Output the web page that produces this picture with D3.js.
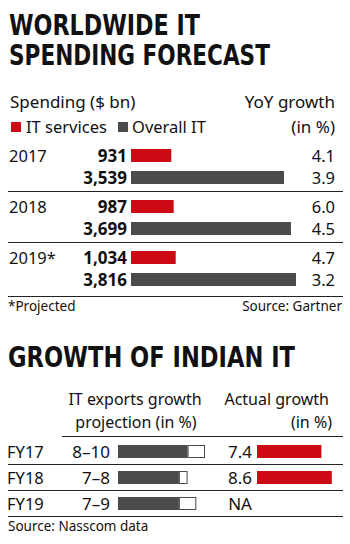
<!DOCTYPE html>
<html>
<head>
<meta charset="utf-8">
<script src="https://cdn.jsdelivr.net/npm/d3@7"></script>
<style>
  html, body { margin: 0; padding: 0; background: #fff; }
  svg { display: block; }
  text { fill: #111; }
</style>
</head>
<body>
<svg id="chart" width="350" height="544"></svg>
<script>
// ---- Data: worldwide IT spending ----
const years = ["2017", "2018", "2019*"];
const itServices = [931, 987, 1034];
const overallIT = [3539, 3699, 3816];
const yoyServices = ["4.1", "6.0", "4.7"];
const yoyOverall = ["3.9", "4.5", "3.2"];

// ---- Data: growth of Indian IT ----
const fiscalYears = ["FY17", "FY18", "FY19"];
const projLow = [8, 7, 7];
const projHigh = [10, 8, 9];
const projLabels = ["8–10", "7–8", "7–9"];
const actualGrowth = [7.4, 8.6, null];
const actualLabels = ["7.4", "8.6", "NA"];

const RED = "#cc0a14";
const GRAY = "#4b4b4b";
const TITLE_FONT = "'Liberation Sans Narrow', 'DejaVu Sans Condensed', 'Roboto Condensed', sans-serif";
const BODY_FONT = "'Noto Sans', 'Open Sans', sans-serif";

const svg = d3.select("#chart");
const fmt = d3.format(",");

// Title line: font size chosen so the natural width fits the reference width,
// then stretched vertically a little (condensed display face in the reference)
function title(txt, x, y, width, sy) {
  const t = svg.append("text")
    .attr("transform", `translate(${x},${y}) scale(1,${sy})`)
    .attr("font-family", TITLE_FONT).attr("font-weight", "bold")
    .attr("font-size", 32).text(txt);
  const w = t.node().getComputedTextLength();
  if (w > 0) t.attr("font-size", Math.min(34, 32 * width / w));
  return t;
}
function label(txt, x, y, opts = {}) {
  return svg.append("text").attr("x", x).attr("y", y)
    .attr("font-family", BODY_FONT)
    .attr("font-size", opts.size || 16)
    .attr("font-weight", opts.weight || "normal")
    .attr("text-anchor", opts.anchor || "start")
    .text(txt);
}
function hline(x1, x2, y) {
  svg.append("line").attr("x1", x1).attr("x2", x2).attr("y1", y).attr("y2", y)
    .attr("stroke", "#222").attr("stroke-width", 1);
}

// ===== Section 1 =====
title("WORLDWIDE IT", 9, 35, 191, 1.15);
title("SPENDING FORECAST", 9, 65, 261, 1.15);

label("Spending ($ bn)", 10, 108, {size: 17});
label("YoY growth", 335, 108, {anchor: "end", size: 17});
label("(in %)", 335, 133, {anchor: "end", size: 17});
svg.append("rect").attr("x", 11).attr("y", 122).attr("width", 10).attr("height", 10).attr("fill", RED);
label("IT services", 26, 133, {size: 16.5});
svg.append("rect").attr("x", 118).attr("y", 122).attr("width", 10).attr("height", 10).attr("fill", GRAY);
label("Overall IT", 132, 133, {size: 16.5});

const y1 = d3.scaleBand().domain(years).range([140, 293]);
const x1 = d3.scaleLinear().domain([0, d3.max(overallIT)]).range([131, 296]);
const barH = 13;

years.forEach((yr, i) => {
  const top = y1(yr);
  const rTop = top + 9, gTop = top + 31;
  svg.append("rect").attr("x", x1(0)).attr("y", rTop)
    .attr("width", x1(itServices[i]) - x1(0)).attr("height", barH).attr("fill", RED);
  svg.append("rect").attr("x", x1(0)).attr("y", gTop)
    .attr("width", x1(overallIT[i]) - x1(0)).attr("height", barH).attr("fill", GRAY);
  label(yr, 9, rTop + 13, {size: 16.5});
  label(fmt(itServices[i]), 127, rTop + 13, {anchor: "end", weight: "bold", size: 17});
  label(fmt(overallIT[i]), 127, gTop + 13, {anchor: "end", weight: "bold", size: 17});
  label(yoyServices[i], 335, rTop + 13, {anchor: "end", size: 16.5});
  label(yoyOverall[i], 335, gTop + 13, {anchor: "end", size: 16.5});
  if (i > 0) hline(8, 343, top + 0.5);
});
hline(8, 343, 296.5);
label("*Projected", 8, 311, {size: 13.5});
label("Source: Gartner", 342, 311, {size: 13.5, anchor: "end"});

// ===== Section 2 =====
title("GROWTH OF INDIAN IT", 8, 367, 287, 1.15);
label("IT exports growth", 135, 405, {anchor: "middle"});
label("projection (in %)", 136, 428, {anchor: "middle"});
label("Actual growth", 329, 405, {anchor: "end"});
label("(in %)", 332, 428, {anchor: "end"});
hline(62, 343, 436.5);

const y2 = d3.scaleBand().domain(fiscalYears).range([438, 516]);
const x2 = d3.scaleLinear().domain([0, 10]).range([118, 205]);
const x3 = d3.scaleLinear().domain([0, 10]).range([257, 344]);

fiscalYears.forEach((fy, i) => {
  const top = y2(fy);
  const bTop = top + 7;
  label(fy, 7, bTop + 13, {size: 16.5});
  label(projLabels[i], 110, bTop + 13, {anchor: "end", size: 17});
  svg.append("rect").attr("x", x2(projLow[i]) + 0.5).attr("y", bTop + 0.5)
    .attr("width", x2(projHigh[i]) - x2(projLow[i]) - 1).attr("height", barH - 1)
    .attr("fill", "#fff").attr("stroke", GRAY).attr("stroke-width", 1);
  svg.append("rect").attr("x", x2(0)).attr("y", bTop)
    .attr("width", x2(projLow[i]) - x2(0)).attr("height", barH).attr("fill", GRAY);
  label(actualLabels[i], 252, bTop + 13, {anchor: "end", size: 17});
  if (actualGrowth[i] != null) {
    svg.append("rect").attr("x", x3(0)).attr("y", bTop)
      .attr("width", x3(actualGrowth[i]) - x3(0)).attr("height", barH).attr("fill", RED);
  }
  if (i > 0) hline(8, 343, top + 0.5);
});
hline(8, 343, 516.5);
label("Source: Nasscom data", 8, 531, {size: 13.5});
</script>
</body>
</html>
